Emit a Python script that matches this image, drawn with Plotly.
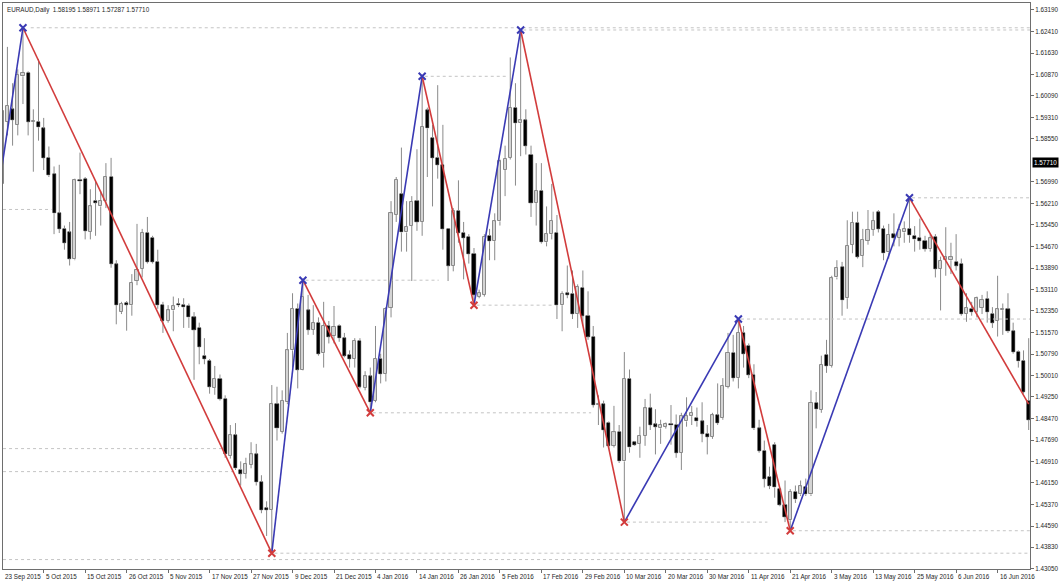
import plotly.graph_objects as go

title_text = "EURAUD,Daily  1.58195 1.58971 1.57287 1.57710"
last_price = 1.57710

opens = [1.5692, 1.5917, 1.5961, 1.5905, 1.6080, 1.6092, 1.5915, 1.5917, 1.5892, 1.5786,
         1.5727, 1.5586, 1.5530, 1.5517, 1.5420, 1.5708, 1.5711, 1.5520, 1.5632, 1.5611,
         1.5630, 1.5717, 1.5402, 1.5230, 1.5263, 1.5255, 1.5342, 1.5386, 1.5515, 1.5498,
         1.5411, 1.5255, 1.5198, 1.5236, 1.5260, 1.5255, 1.5252, 1.5211, 1.5173, 1.5073,
         1.5055, 1.4957, 1.4990, 1.4917, 1.4711, 1.4786, 1.4661, 1.4648, 1.4680, 1.4717,
         1.4617, 1.4523, 1.4517, 1.4898, 1.4798, 1.4905, 1.5092, 1.5242, 1.5023, 1.5236,
         1.5167, 1.5192, 1.5082, 1.5180, 1.5145, 1.5180, 1.5136, 1.5077, 1.5061, 1.5127,
         1.4957, 1.4998, 1.4911, 1.5061, 1.5007, 1.5245, 1.5580, 1.5655, 1.5517, 1.5542,
         1.5630, 1.5555, 1.5957, 1.5857, 1.5786, 1.5761, 1.5530, 1.5398, 1.5595, 1.5515,
         1.5502, 1.5440, 1.5286, 1.5292, 1.5505, 1.5486, 1.5557, 1.5742, 1.5786, 1.5967,
         1.5911, 1.5921, 1.5798, 1.5623, 1.5667, 1.5482, 1.5511, 1.5515, 1.5255, 1.5298,
         1.5297, 1.5223, 1.5317, 1.5217, 1.5142, 1.4895, 1.4898, 1.4830, 1.4748, 1.4798,
         1.4692, 1.4990, 1.4761, 1.4755, 1.4785, 1.4883, 1.4825, 1.4811, 1.4817, 1.4826,
         1.4823, 1.4723, 1.4836, 1.4855, 1.4848, 1.4836, 1.4792, 1.4780, 1.4858, 1.4848,
         1.4961, 1.5083, 1.4992, 1.5155, 1.5108, 1.5005, 1.4811, 1.4730, 1.4636, 1.4752,
         1.4592, 1.4536, 1.4480, 1.4583, 1.4573, 1.4598, 1.4573, 1.4902, 1.4877, 1.5077,
         1.5036, 1.5355, 1.5392, 1.5280, 1.5473, 1.5552, 1.5432, 1.5487, 1.5527, 1.5590,
         1.5530, 1.5445, 1.5510, 1.5498, 1.5517, 1.5530, 1.5505, 1.5498, 1.5486, 1.5457,
         1.5502, 1.5386, 1.5417, 1.5417, 1.5411, 1.5405, 1.5223, 1.5242, 1.5232, 1.5245,
         1.5277, 1.5223, 1.5198, 1.5237, 1.5240, 1.5161, 1.5086, 1.5055, 1.4911]

highs = [1.6017, 1.6186, 1.6055, 1.6105, 1.6255, 1.6098, 1.5961, 1.6142, 1.5930, 1.5827,
         1.5755, 1.5761, 1.5542, 1.5555, 1.5711, 1.5805, 1.5717, 1.5673, 1.5705, 1.5667,
         1.5767, 1.5786, 1.5417, 1.5267, 1.5270, 1.5367, 1.5548, 1.5530, 1.5573, 1.5505,
         1.5455, 1.5267, 1.5255, 1.5286, 1.5280, 1.5280, 1.5261, 1.5230, 1.5192, 1.5136,
         1.5061, 1.5036, 1.5005, 1.4930, 1.4823, 1.4830, 1.4692, 1.4705, 1.4761, 1.4755,
         1.4642, 1.4548, 1.4967, 1.4961, 1.4948, 1.5155, 1.5298, 1.5261, 1.5345, 1.5292,
         1.5255, 1.5211, 1.5267, 1.5198, 1.5252, 1.5186, 1.5155, 1.5092, 1.5136, 1.5136,
         1.5017, 1.5030, 1.5180, 1.5080, 1.5248, 1.5630, 1.5717, 1.5823, 1.5630, 1.5648,
         1.5817, 1.6080, 1.5967, 1.5905, 1.6048, 1.5905, 1.5532, 1.5605, 1.5705, 1.5555,
         1.5511, 1.5461, 1.5311, 1.5511, 1.5530, 1.5586, 1.5780, 1.5830, 1.6148, 1.6055,
         1.6247, 1.5961, 1.5830, 1.5767, 1.5767, 1.5611, 1.5692, 1.5580, 1.5305, 1.5398,
         1.5380, 1.5330, 1.5380, 1.5305, 1.5180, 1.4930, 1.4911, 1.4836, 1.4892, 1.4823,
         1.5086, 1.5023, 1.4765, 1.4817, 1.4917, 1.4936, 1.4880, 1.4842, 1.4832, 1.4895,
         1.4861, 1.4867, 1.4923, 1.4892, 1.4886, 1.4905, 1.4823, 1.4867, 1.4973, 1.4992,
         1.5155, 1.5148, 1.5205, 1.5180, 1.5117, 1.5042, 1.4842, 1.4767, 1.4673, 1.4761,
         1.4598, 1.4623, 1.4592, 1.4605, 1.4623, 1.4630, 1.4948, 1.4942, 1.5073, 1.5130,
         1.5361, 1.5417, 1.5411, 1.5561, 1.5592, 1.5592, 1.5530, 1.5598, 1.5592, 1.5598,
         1.5542, 1.5548, 1.5586, 1.5548, 1.5557, 1.5642, 1.5540, 1.5567, 1.5505, 1.5511,
         1.5511, 1.5430, 1.5536, 1.5480, 1.5511, 1.5423, 1.5298, 1.5267, 1.5286, 1.5292,
         1.5305, 1.5248, 1.5361, 1.5261, 1.5298, 1.5192, 1.5092, 1.5092, 1.5136]

lows = [1.5667, 1.5867, 1.5830, 1.5867, 1.5980, 1.5867, 1.5736, 1.5848, 1.5742, 1.5717,
        1.5511, 1.5515, 1.5455, 1.5398, 1.5417, 1.5655, 1.5492, 1.5492, 1.5505, 1.5542,
        1.5605, 1.5390, 1.5186, 1.5223, 1.5163, 1.5217, 1.5327, 1.5355, 1.5405, 1.5405,
        1.5242, 1.5155, 1.5192, 1.5161, 1.5248, 1.5173, 1.5173, 1.4986, 1.5042, 1.5042,
        1.4936, 1.4932, 1.4911, 1.4705, 1.4702, 1.4661, 1.4605, 1.4630, 1.4667, 1.4605,
        1.4505, 1.4423, 1.4361, 1.4767, 1.4792, 1.4898, 1.5030, 1.4955, 1.5020, 1.5148,
        1.5148, 1.5073, 1.5030, 1.5117, 1.5117, 1.5123, 1.5067, 1.5030, 1.5030, 1.4955,
        1.4948, 1.4867, 1.4905, 1.4973, 1.4980, 1.5211, 1.5555, 1.5448, 1.5448, 1.5342,
        1.5523, 1.5505, 1.5717, 1.5611, 1.5711, 1.5455, 1.5342, 1.5377, 1.5480, 1.5348,
        1.5405, 1.5255, 1.5280, 1.5286, 1.5417, 1.5417, 1.5542, 1.5648, 1.5780, 1.5686,
        1.5792, 1.5798, 1.5573, 1.5542, 1.5477, 1.5467, 1.5492, 1.5205, 1.5161, 1.5280,
        1.5205, 1.5173, 1.5180, 1.5130, 1.4886, 1.4823, 1.4742, 1.4736, 1.4742, 1.4686,
        1.4473, 1.4723, 1.4748, 1.4705, 1.4748, 1.4805, 1.4717, 1.4755, 1.4810, 1.4752,
        1.4705, 1.4661, 1.4817, 1.4823, 1.4817, 1.4761, 1.4717, 1.4773, 1.4823, 1.4842,
        1.4955, 1.4980, 1.4955, 1.5030, 1.4992, 1.4805, 1.4723, 1.4598, 1.4592, 1.4561,
        1.4530, 1.4473, 1.4442, 1.4542, 1.4567, 1.4567, 1.4567, 1.4811, 1.4867, 1.5011,
        1.5030, 1.5348, 1.5217, 1.5242, 1.5442, 1.5423, 1.5392, 1.5473, 1.5505, 1.5517,
        1.5417, 1.5423, 1.5467, 1.5467, 1.5480, 1.5480, 1.5448, 1.5455, 1.5448, 1.5448,
        1.5355, 1.5236, 1.5361, 1.5367, 1.5380, 1.5217, 1.5195, 1.5217, 1.5211, 1.5223,
        1.5192, 1.5173, 1.5142, 1.5148, 1.5155, 1.5080, 1.5030, 1.4936, 1.4805]

closes = [1.5955, 1.5973, 1.5923, 1.6086, 1.6092, 1.5917, 1.5920, 1.5896, 1.5786, 1.5723,
          1.5586, 1.5530, 1.5480, 1.5423, 1.5705, 1.5702, 1.5523, 1.5611, 1.5625, 1.5630,
          1.5717, 1.5405, 1.5255, 1.5261, 1.5257, 1.5336, 1.5382, 1.5515, 1.5411, 1.5411,
          1.5255, 1.5198, 1.5236, 1.5251, 1.5255, 1.5247, 1.5211, 1.5167, 1.5105, 1.5061,
          1.4961, 1.4990, 1.4917, 1.4717, 1.4786, 1.4667, 1.4648, 1.4682, 1.4717, 1.4617,
          1.4517, 1.4517, 1.4898, 1.4811, 1.4911, 1.5092, 1.5242, 1.5023, 1.5286, 1.5167,
          1.5190, 1.5080, 1.5180, 1.5142, 1.5177, 1.5136, 1.5073, 1.5061, 1.5127, 1.4961,
          1.4998, 1.4905, 1.5061, 1.5007, 1.5242, 1.5586, 1.5707, 1.5517, 1.5538, 1.5627,
          1.5555, 1.5898, 1.5892, 1.5786, 1.5761, 1.5530, 1.5398, 1.5595, 1.5515, 1.5498,
          1.5440, 1.5292, 1.5298, 1.5502, 1.5486, 1.5557, 1.5773, 1.5782, 1.5967, 1.5911,
          1.5921, 1.5830, 1.5623, 1.5667, 1.5482, 1.5511, 1.5560, 1.5255, 1.5296, 1.5292,
          1.5223, 1.5321, 1.5217, 1.5142, 1.4895, 1.4900, 1.4805, 1.4748, 1.4797, 1.4692,
          1.4990, 1.4742, 1.4752, 1.4785, 1.4883, 1.4823, 1.4817, 1.4823, 1.4827, 1.4822,
          1.4723, 1.4855, 1.4855, 1.4867, 1.4836, 1.4792, 1.4780, 1.4858, 1.4830, 1.4965,
          1.5083, 1.4992, 1.5155, 1.5080, 1.5005, 1.4811, 1.4730, 1.4630, 1.4605, 1.4598,
          1.4536, 1.4492, 1.4583, 1.4555, 1.4602, 1.4573, 1.4902, 1.4880, 1.5040, 1.5036,
          1.5352, 1.5390, 1.5273, 1.5470, 1.5552, 1.5430, 1.5490, 1.5527, 1.5558, 1.5530,
          1.5442, 1.5508, 1.5498, 1.5527, 1.5530, 1.5507, 1.5492, 1.5486, 1.5457, 1.5496,
          1.5386, 1.5415, 1.5427, 1.5428, 1.5398, 1.5223, 1.5245, 1.5230, 1.5280, 1.5273,
          1.5230, 1.5192, 1.5240, 1.5242, 1.5161, 1.5086, 1.5052, 1.4942, 1.4842]

date_labels = ["23 Sep 2015", "5 Oct 2015", "15 Oct 2015", "26 Oct 2015", "5 Nov 2015",
               "17 Nov 2015", "27 Nov 2015", "9 Dec 2015", "21 Dec 2015", "4 Jan 2016",
               "14 Jan 2016", "26 Jan 2016", "5 Feb 2016", "17 Feb 2016", "29 Feb 2016",
               "10 Mar 2016", "20 Mar 2016", "30 Mar 2016", "11 Apr 2016", "21 Apr 2016",
               "3 May 2016", "13 May 2016", "25 May 2016", "6 Jun 2016", "16 Jun 2016"]
bars_per_label = 8

zz_bars = [0, 4, 52, 58, 71, 81, 91, 100, 120, 142, 152, 175, 198]
zz_prices = [1.5761, 1.6255, 1.4361, 1.5345, 1.4867, 1.6080, 1.5255, 1.6247,
             1.4473, 1.5205, 1.4442, 1.5642, 1.4898]

level_prices = [1.6255, 1.6247, 1.6080, 1.5600, 1.5642, 1.5345, 1.5255, 1.5205,
                1.4867, 1.4473, 1.4442, 1.4738, 1.4655, 1.4361, 1.4338]
level_from = [5.5, 100.5, 81.5, -1, 175.5, 58.5, 91.5, 142.5, 71.5, 120.5, 152.5, -1, -1, 52.5, -1]
level_to = [199, 199, 97.7, 9.5, 199, 84.2, 106.3, 199, 113.6, 147.6, 199, 42.5, 45.2, 199, 137.4]

y_ticks = [1.63190, 1.62410, 1.61630, 1.60870, 1.60090, 1.59310, 1.58550, 1.56990,
           1.56210, 1.55450, 1.54670, 1.53890, 1.53110, 1.52350, 1.51570, 1.50790,
           1.50010, 1.49250, 1.48470, 1.47690, 1.46910, 1.46150, 1.45370, 1.44590,
           1.43830, 1.43050]

BULL_FILL = "#d4d4d4"
WICK = "#8a8a8a"
BEAR_FILL = "#000000"
UP_LINE = "#3a3ab4"
DN_LINE = "#d23c3c"
LEVEL = "#c4c4c4"
TXT = "#262626"
FONT = "Liberation Sans, Arial, sans-serif"
FS = 6.3
MIN_BODY = 0.00012
X_MIN, X_MAX = 0.15, 198.25

n = len(opens)
idx = list(range(n))
up = [i for i in idx if closes[i] >= opens[i]]
dn = [i for i in idx if closes[i] < opens[i]]

fig = go.Figure()

fig.add_trace(go.Bar(
    x=up, base=[min(opens[i], closes[i]) for i in up],
    y=[max(abs(closes[i] - opens[i]), MIN_BODY) for i in up],
    width=0.6, marker=dict(color=BULL_FILL, line=dict(color=WICK, width=1)),
    hoverinfo="skip"))
fig.add_trace(go.Bar(
    x=dn, base=[min(opens[i], closes[i]) for i in dn],
    y=[max(abs(closes[i] - opens[i]), MIN_BODY) for i in dn],
    width=0.6, marker=dict(color=BEAR_FILL, line=dict(color=BEAR_FILL, width=0.5)),
    hoverinfo="skip"))

wx, wy = [], []
for i in idx:
    top = max(opens[i], closes[i])
    bot = min(opens[i], closes[i])
    wx += [i, i, None, i, i, None]
    wy += [highs[i], top, None, bot, lows[i], None]
fig.add_trace(go.Scatter(x=wx, y=wy, mode="lines", line=dict(color=WICK, width=1),
                         hoverinfo="skip"))

lx, ly = [], []
for p, a, b in zip(level_prices, level_from, level_to):
    lx += [a, b, None]
    ly += [p, p, None]
fig.add_trace(go.Scatter(x=lx, y=ly, mode="lines",
                         line=dict(color=LEVEL, width=1, dash="dot"), hoverinfo="skip"))

ux, uy, dx, dy = [], [], [], []
for k in range(len(zz_bars) - 1):
    a, b = zz_bars[k], zz_bars[k + 1]
    pa, pb = zz_prices[k], zz_prices[k + 1]
    if pb > pa:
        ux += [a, b, None]; uy += [pa, pb, None]
    else:
        dx += [a, b, None]; dy += [pa, pb, None]
fig.add_trace(go.Scatter(x=ux, y=uy, mode="lines", line=dict(color=UP_LINE, width=1.6),
                         hoverinfo="skip"))
fig.add_trace(go.Scatter(x=dx, y=dy, mode="lines", line=dict(color=DN_LINE, width=1.6),
                         hoverinfo="skip"))

hx, hy, lox, loy = [], [], [], []
for k in range(1, len(zz_bars) - 1):
    if zz_prices[k] > zz_prices[k - 1]:
        hx.append(zz_bars[k]); hy.append(zz_prices[k])
    else:
        lox.append(zz_bars[k]); loy.append(zz_prices[k])
fig.add_trace(go.Scatter(x=hx, y=hy, mode="markers",
                         marker=dict(symbol="x-thin", size=7, color=UP_LINE,
                                     line=dict(color=UP_LINE, width=2)), hoverinfo="skip"))
fig.add_trace(go.Scatter(x=lox, y=loy, mode="markers",
                         marker=dict(symbol="x-thin", size=7, color=DN_LINE,
                                     line=dict(color=DN_LINE, width=2)), hoverinfo="skip"))

annotations = []
for k, lab in enumerate(date_labels):
    xb = max(k * bars_per_label, X_MIN + 0.01)
    annotations.append(dict(x=xb, xref="x", y=0, yref="paper",
                            xanchor="left", yanchor="top", yshift=-2, xshift=0,
                            text=lab, showarrow=False,
                            font=dict(family=FONT, size=FS, color=TXT)))
annotations.append(dict(x=0, xref="paper", y=1, yref="paper", xanchor="left",
                        yanchor="top", xshift=2, yshift=-1, text=title_text,
                        showarrow=False, font=dict(family=FONT, size=FS, color=TXT)))
annotations.append(dict(x=1, xref="paper", y=last_price, yref="y", xanchor="left",
                        yanchor="middle", xshift=2, text="%.5f" % last_price,
                        showarrow=False, bgcolor="#000000", borderpad=1,
                        font=dict(family=FONT, size=FS, color="#ffffff")))

fig.update_layout(
    width=1061, height=586,
    margin=dict(l=2, r=27, t=2, b=17),
    paper_bgcolor="white", plot_bgcolor="white",
    showlegend=False, barmode="overlay", bargap=0,
    font=dict(family=FONT, size=FS, color=TXT),
    annotations=annotations,
    xaxis=dict(range=[X_MIN, X_MAX], showgrid=False, zeroline=False,
               showline=True, mirror=True, linecolor="#6e6e6e", linewidth=1,
               ticks="outside", ticklen=3, tickcolor="#6e6e6e",
               tickvals=[k * bars_per_label for k in range(len(date_labels))],
               showticklabels=False, fixedrange=True),
    yaxis=dict(side="right", range=[1.4304, 1.63442], showgrid=False, zeroline=False,
               showline=True, mirror=True, linecolor="#6e6e6e", linewidth=1,
               ticks="outside", ticklen=3, tickcolor="#6e6e6e",
               tickvals=y_ticks, ticktext=["%.5f" % v for v in y_ticks],
               tickfont=dict(family=FONT, size=FS, color=TXT), fixedrange=True),
)

fig.write_html("out.html", config={"displayModeBar": False},
               post_script="document.body.style.margin='0';document.body.style.overflow='hidden';")
